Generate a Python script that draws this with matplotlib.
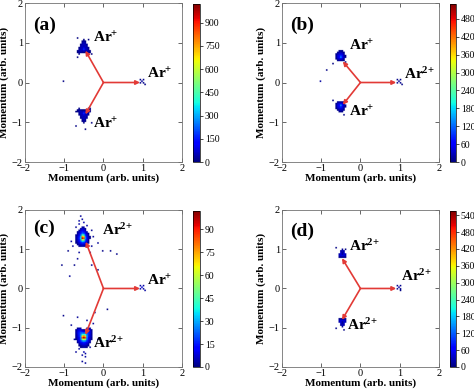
import numpy as np
import matplotlib
matplotlib.use('Agg')
import matplotlib.pyplot as plt

# fuentes tipo Times
plt.rcParams['font.family'] = 'serif'
plt.rcParams['font.serif'] = ['Liberation Serif', 'DejaVu Serif']
plt.rcParams['mathtext.fontset'] = 'custom'
plt.rcParams['mathtext.rm'] = 'Liberation Serif'
plt.rcParams['mathtext.bf'] = 'Liberation Serif:bold'

# ---------------- datos ----------------
cell = 0.04  # tamano de bin (arb. units)

# (a) Ar+ / Ar+ / Ar+
a_top = [
    [0, 0, 0, 0, 5, 0, 0, 0, 0],
    [0, 0, 0, 10, 25, 10, 0, 0, 0],
    [0, 0, 0, 30, 45, 30, 0, 0, 0],
    [0, 0, 15, 45, 60, 45, 15, 0, 0],
    [0, 0, 30, 60, 40, 60, 30, 0, 0],
    [0, 10, 45, 55, 90, 55, 45, 10, 0],
    [0, 20, 50, 70, 160, 70, 50, 20, 0],
    [8, 35, 55, 40, 70, 40, 55, 35, 8],
    [5, 25, 30, 10, 5, 10, 30, 25, 5],
    [0, 5, 0, 0, 0, 0, 0, 5, 0],
]
a_side = [
    [8, 0, 8],
    [0, 30, 0],
    [8, 0, 8],
]
a_blob_x = [-0.52, -0.52, 0.98]
a_blob_y = [0.86, -0.86, 0.0]
a_spec_x = [-1.03, -0.64, -0.36, -0.66, -0.30, -0.68, -0.46, -0.34, 1.06, -0.70, -0.28]
a_spec_y = [0.02, 1.12, 1.06, 0.64, 0.70, -1.10, -1.16, -0.64, -0.06, -0.72, -1.02]
a_spec_w = [5, 3, 3, 4, 3, 4, 3, 3, 4, 3, 3]
a_tips = [(0.93, 0.0), (-0.46, 0.80), (-0.46, -0.80)]

# (b) Ar+ / Ar2+ / Ar+
b_top = [
    [0, 0, 5, 10, 5, 0, 0],
    [0, 8, 22, 30, 20, 5, 0],
    [5, 25, 40, 45, 38, 15, 0],
    [10, 38, 55, 90, 50, 22, 3],
    [12, 40, 65, 140, 60, 25, 5],
    [5, 30, 45, 50, 40, 15, 0],
    [0, 8, 15, 12, 10, 3, 0],
]
b_side = [
    [5, 0, 5],
    [0, 18, 0],
    [5, 0, 5],
]
b_blob_x = [-0.52, -0.52, 0.96]
b_blob_y = [0.65, -0.65, 0.0]
b_spec_x = [-1.03, -0.85, -0.70, -0.36, -0.68, -0.40, 1.05]
b_spec_y = [0.02, 0.30, 0.45, 0.50, -0.45, -0.82, -0.05]
b_spec_w = [15, 3, 2, 2, 2, 2, 3]
b_tips = [(0.91, 0.0), (-0.45, 0.53), (-0.45, -0.56)]

# (c) Ar2+ / Ar+ / Ar2+
c_top = [
    [0, 0, 0, 0, 2, 3, 0, 0, 0, 0],
    [0, 0, 0, 3, 6, 5, 2, 0, 0, 0],
    [0, 0, 2, 6, 10, 9, 4, 0, 0, 0],
    [0, 2, 5, 10, 16, 14, 8, 3, 0, 0],
    [0, 3, 8, 15, 25, 22, 12, 5, 1, 0],
    [1, 4, 10, 22, 45, 40, 18, 8, 2, 0],
    [2, 6, 14, 30, 75, 70, 25, 10, 3, 1],
    [2, 7, 16, 35, 95, 85, 28, 12, 4, 1],
    [2, 6, 14, 28, 60, 55, 22, 10, 3, 0],
    [1, 5, 11, 20, 32, 30, 16, 8, 2, 0],
    [1, 3, 8, 12, 16, 15, 10, 5, 1, 0],
    [0, 2, 4, 6, 8, 7, 5, 3, 0, 0],
    [0, 0, 2, 3, 4, 3, 2, 0, 0, 0],
]
c_bot = [
    [0, 2, 4, 3, 0, 0, 0, 3, 4, 2, 0],
    [2, 6, 10, 8, 4, 2, 4, 8, 10, 6, 2],
    [3, 8, 14, 16, 12, 8, 12, 16, 14, 8, 3],
    [3, 9, 16, 22, 25, 22, 25, 22, 16, 9, 3],
    [2, 8, 16, 25, 40, 45, 40, 25, 16, 8, 2],
    [2, 7, 15, 28, 70, 80, 70, 28, 15, 7, 2],
    [1, 6, 13, 26, 85, 98, 85, 26, 13, 6, 1],
    [1, 5, 12, 22, 50, 60, 50, 22, 12, 5, 1],
    [0, 4, 9, 16, 26, 30, 26, 16, 9, 4, 0],
    [0, 2, 6, 10, 14, 16, 14, 10, 6, 2, 0],
    [0, 0, 3, 6, 8, 9, 8, 6, 3, 0, 0],
    [0, 0, 1, 3, 5, 6, 5, 3, 1, 0, 0],
    [0, 0, 0, 1, 2, 3, 2, 1, 0, 0, 0],
]
c_side = [
    [3, 0, 3],
    [0, 8, 0],
    [3, 0, 3],
]
c_blob_x = [-0.52, -0.52, 0.97]
c_blob_y = [1.26, -1.26, 0.0]
c_spec_x = [-0.55, -0.48, -0.60, -0.42, -0.70, -0.30, -0.25, -0.80, -0.78, -0.30,
            -0.35, -0.60, -0.15, 0.00, -0.65, -0.90, -1.05, -0.30, 0.20, -0.12,
            0.35, -0.85, -0.73, -0.50, -0.55, -0.45, -0.52, -0.60, -0.35, -0.75,
            -0.30, -0.80, -0.25, -0.40, -0.65, -0.70, -0.15, -1.00, -0.20, 0.10,
            1.05, -0.58, -0.46, -0.62, -0.44]
c_spec_y = [1.75, 1.68, 1.62, 1.60, 1.55, 1.45, 1.30, 1.20, 1.05, 1.05,
            0.90, 0.90, 1.15, 0.95, 0.75, 0.95, 0.60, 0.60, 0.95, 0.45,
            0.85, 0.30, 0.60, -1.62, -1.70, -1.75, -1.85, -1.55, -1.50, -1.30,
            -1.20, -0.95, -0.90, -0.80, -0.75, -1.60, -1.30, -0.70, -0.60, -0.55,
            -0.06, 1.82, -1.92, 1.70, -1.66]
c_spec_w = [3, 4, 3, 3, 2, 2, 2, 3, 2, 2,
            2, 2, 2, 1, 2, 1, 1, 2, 1, 1,
            1, 2, 1, 4, 3, 3, 2, 3, 2, 2,
            2, 2, 2, 2, 2, 2, 1, 1, 1, 1,
            3, 2, 2, 3, 3]
c_tips = [(0.93, 0.0), (-0.45, 1.19), (-0.46, -1.18)]

# (d) Ar2+ / Ar2+ / Ar2+
d_top = [
    [0, 0, 10, 0, 0],
    [0, 15, 35, 15, 0],
    [0, 35, 15, 35, 0],
    [20, 45, 10, 45, 20],
    [30, 42, 40, 42, 30],
    [5, 10, 8, 10, 5],
]
d_side = [
    [8, 0, 8],
    [0, 20, 0],
    [8, 0, 8],
]
d_blob_x = [-0.50, -0.50, 0.96]
d_blob_y = [0.88, -0.88, 0.0]
d_spec_x = [-0.62, -0.38, -0.60, -0.40, 1.04]
d_spec_y = [1.02, 1.00, -1.02, -1.04, -0.05]
d_spec_w = [3, 3, 3, 3, 4]
d_tips = [(0.91, 0.0), (-0.47, 0.77), (-0.47, -0.80)]

vmaxes = [1020, 530, 102, 555]
cticks = [np.arange(0, 901, 150), np.arange(0, 481, 60), np.arange(0, 91, 15), np.arange(0, 541, 60)]
panel_labels = ['(a)', '(b)', '(c)', '(d)']
ion_labels = [
    [r'$\mathbf{Ar^{+}}$', r'$\mathbf{Ar^{+}}$', r'$\mathbf{Ar^{+}}$'],
    [r'$\mathbf{Ar^{+}}$', r'$\mathbf{Ar^{2{+}}}$', r'$\mathbf{Ar^{+}}$'],
    [r'$\mathbf{Ar^{2{+}}}$', r'$\mathbf{Ar^{+}}$', r'$\mathbf{Ar^{2{+}}}$'],
    [r'$\mathbf{Ar^{2{+}}}$', r'$\mathbf{Ar^{2{+}}}$', r'$\mathbf{Ar^{2{+}}}$'],
]
# posiciones de las etiquetas: arriba, derecha, abajo
ion_pos = [
    [(-0.27, 1.12), (1.10, 0.22), (-0.27, -1.05)],
    [(-0.30, 0.92), (1.10, 0.22), (-0.30, -0.75)],
    [(-0.05, 1.50), (1.10, 0.20), (-0.26, -1.38)],
    [(-0.30, 1.08), (1.02, 0.32), (-0.34, -0.92)],
]
label_pos = [(-1.80, 1.45), (-1.80, 1.45), (-1.80, 1.52), (-1.80, 1.45)]


def make_grid(stamps, cx, cy, sx, sy, sw):
    """Construye el histograma 2D a partir de los bloques y puntos sueltos"""
    edges = np.arange(-2, 2 + cell / 2, cell)
    n = len(edges) - 1
    grid = np.zeros((n, n))
    for st, x0, y0 in zip(stamps, cx, cy):
        st = np.flipud(np.asarray(st, dtype=float))  # fila 0 = y mas bajo
        h, w = st.shape
        i0 = int(round((y0 + 2) / cell)) - h // 2
        j0 = int(round((x0 + 2) / cell)) - w // 2
        grid[i0:i0 + h, j0:j0 + w] += st
    H, _, _ = np.histogram2d(sy, sx, bins=[edges, edges], weights=sw)
    grid += H
    return np.ma.masked_equal(grid, 0)


grids = [
    make_grid([a_top, np.flipud(a_top), a_side], a_blob_x, a_blob_y, a_spec_x, a_spec_y, a_spec_w),
    make_grid([b_top, np.flipud(b_top), b_side], b_blob_x, b_blob_y, b_spec_x, b_spec_y, b_spec_w),
    make_grid([c_top, c_bot, c_side], c_blob_x, c_blob_y, c_spec_x, c_spec_y, c_spec_w),
    make_grid([d_top, np.flipud(d_top), d_side], d_blob_x, d_blob_y, d_spec_x, d_spec_y, d_spec_w),
]
tips = [a_tips, b_tips, c_tips, d_tips]

fig = plt.figure(figsize=(4.74, 3.90), dpi=100)
ax_rects = [
    [0.0527, 0.5846, 0.3312, 0.4077],
    [0.5949, 0.5846, 0.3312, 0.4077],
    [0.0527, 0.0590, 0.3312, 0.4026],
    [0.5949, 0.0590, 0.3312, 0.4026],
]
cb_rects = [
    [0.4072, 0.5846, 0.0148, 0.4051],
    [0.9494, 0.5846, 0.0127, 0.4051],
    [0.4072, 0.0590, 0.0148, 0.4000],
    [0.9494, 0.0590, 0.0127, 0.4000],
]

cmap = plt.get_cmap('jet').copy()
cmap.set_bad('white')
red = '#e23a36'

for k in range(4):
    ax = fig.add_axes(ax_rects[k])
    im = ax.imshow(grids[k], origin='lower', extent=(-2, 2, -2, 2), cmap=cmap,
                   vmin=0, vmax=vmaxes[k], aspect='auto', interpolation='antialiased')
    for t in tips[k]:
        ax.annotate('', xy=t, xytext=(0, 0),
                    arrowprops=dict(arrowstyle='-|>', color=red, lw=1.2,
                                    mutation_scale=6, shrinkA=0, shrinkB=0))
    for txt, p in zip(ion_labels[k], ion_pos[k]):
        ax.text(p[0], p[1], txt, fontsize=11, ha='left', va='center')
    ax.text(label_pos[k][0], label_pos[k][1], panel_labels[k], fontsize=14,
            fontweight='bold', ha='left', va='center')
    ax.set_xlim(-2, 2)
    ax.set_ylim(-2, 2)
    ax.set_xticks([-2, -1, 0, 1, 2])
    ax.set_yticks([-2, -1, 0, 1, 2])
    ax.tick_params(direction='in', top=True, right=True, length=3, width=0.6,
                   labelsize=7.5, pad=1.5, color='0.3')
    for s in ax.spines.values():
        s.set_linewidth(0.6)
        s.set_color('0.45')
    ax.set_xlabel('Momentum (arb. units)', fontsize=8, fontweight='bold')
    ax.set_ylabel('Momentum (arb. units)', fontsize=8, fontweight='bold')
    ax.xaxis.set_label_coords(0.5, -0.07)
    ax.yaxis.set_label_coords(-0.10, 0.5)

    cax = fig.add_axes(cb_rects[k])
    cb = fig.colorbar(im, cax=cax, ticks=cticks[k])
    cb.ax.tick_params(labelsize=7, length=2, width=0.5, pad=1.5)
    cb.outline.set_linewidth(0.5)

fig.savefig('out.png', dpi=100)
